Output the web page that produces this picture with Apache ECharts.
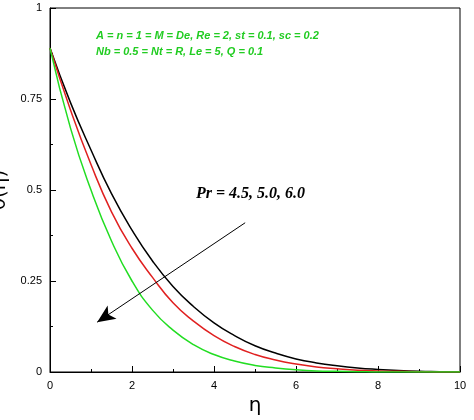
<!DOCTYPE html>
<html><head><meta charset="utf-8">
<script src="https://cdn.jsdelivr.net/npm/echarts@6/dist/echarts.min.js"></script>
<style>html,body{margin:0;padding:0;background:#fff}#c{width:474px;height:420px}</style>
</head><body><div id="c"></div>
<script>
// eta sampled every 0.5
const eta = [0,0.5,1,1.5,2,2.5,3,3.5,4,4.5,5,5.5,6,6.5,7,7.5,8,8.5,9,9.5,10]
const pr45 = [0.89,0.74,0.61,0.49,0.39,0.305,0.235,0.18,0.135,0.10,0.072,0.052,0.036,0.025,0.017,0.011,0.007,0.004,0.002,0.001,0]
const pr50 = [0.89,0.72,0.57,0.44,0.34,0.26,0.19,0.14,0.10,0.07,0.048,0.033,0.022,0.014,0.009,0.005,0.003,0.002,0.001,0,0]
const pr60 = [0.89,0.67,0.50,0.36,0.25,0.17,0.115,0.075,0.048,0.03,0.018,0.011,0.006,0.003,0.002,0.001,0,0,0,0,0]
const xTicks = [0,2,4,6,8,10]
const yTicks = [0,0.25,0.5,0.75,1]

const pair = arr => eta.map((e, i) => [e, arr[i]])
let chart = echarts.init(document.getElementById('c'))
let axisCommon = {
    axisLine: { onZero: false, lineStyle: { color: '#000' } },
    axisTick: { inside: true, length: 6, lineStyle: { color: '#000' } },
    minorTick: { show: true, splitNumber: 2, length: 3, lineStyle: { color: '#000' } },
    splitLine: { show: false },
    axisLabel: { color: '#000', fontFamily: 'Liberation Sans', fontSize: 11 }
}
let option = {
    animation: false,
    grid: { left: 50, right: 14, top: 8, bottom: 48, containLabel: false, outerBoundsMode: 'none', show: true, borderColor: '#000', borderWidth: 1 },
    xAxis: Object.assign({}, axisCommon, {
        type: 'value', min: 0, max: 10, interval: 2,
        name: 'η', nameLocation: 'middle', nameGap: 24,
        nameTextStyle: { fontSize: 20, color: '#000', fontFamily: 'DejaVu Sans' },
        axisLabel: Object.assign({}, axisCommon.axisLabel, { formatter: v => xTicks.includes(v) ? String(v) : '' })
    }),
    yAxis: Object.assign({}, axisCommon, {
        type: 'value', min: 0, max: 1, interval: 0.25,
        name: 'θ(η)', nameLocation: 'middle', nameGap: 30,
        nameTextStyle: { fontSize: 20, color: '#000', fontFamily: 'DejaVu Sans' },
        axisLabel: Object.assign({}, axisCommon.axisLabel, { formatter: v => yTicks.includes(v) ? String(v) : '' })
    }),
    series: [{
        name: 'Pr=4.5', type: 'line', smooth: true, symbol: 'none',
        lineStyle: { color: '#000', width: 1.5 }, data: pair(pr45),
        markLine: {
            silent: true, symbol: ['none', 'arrow'], symbolSize: [12, 18],
            lineStyle: { color: '#000', width: 1, type: 'solid' },
            label: { show: false },
            data: [[{ coord: [4.76, 0.41] }, { coord: [1.15, 0.137] }]]
        }
    }, {
        name: 'Pr=5.0', type: 'line', smooth: true, symbol: 'none',
        lineStyle: { color: '#e02020', width: 1.5 }, data: pair(pr50)
    }, {
        name: 'Pr=6.0', type: 'line', smooth: true, symbol: 'none',
        lineStyle: { color: '#22dd22', width: 1.5 }, data: pair(pr60)
    }],
    graphic: [{
        type: 'text', left: 96, top: 28,
        style: {
            text: 'A = n = 1 = M = De, Re = 2, st = 0.1, sc = 0.2\nNb = 0.5 = Nt = R, Le = 5, Q = 0.1',
            fill: '#22cc22', font: 'italic bold 11px Liberation Sans', lineHeight: 16
        }
    }, {
        type: 'text', left: 196, top: 186,
        style: { text: 'Pr = 4.5, 5.0, 6.0', fill: '#000', font: 'italic bold 16px Liberation Serif' }
    }]
}
chart.setOption(option)
</script></body></html>
